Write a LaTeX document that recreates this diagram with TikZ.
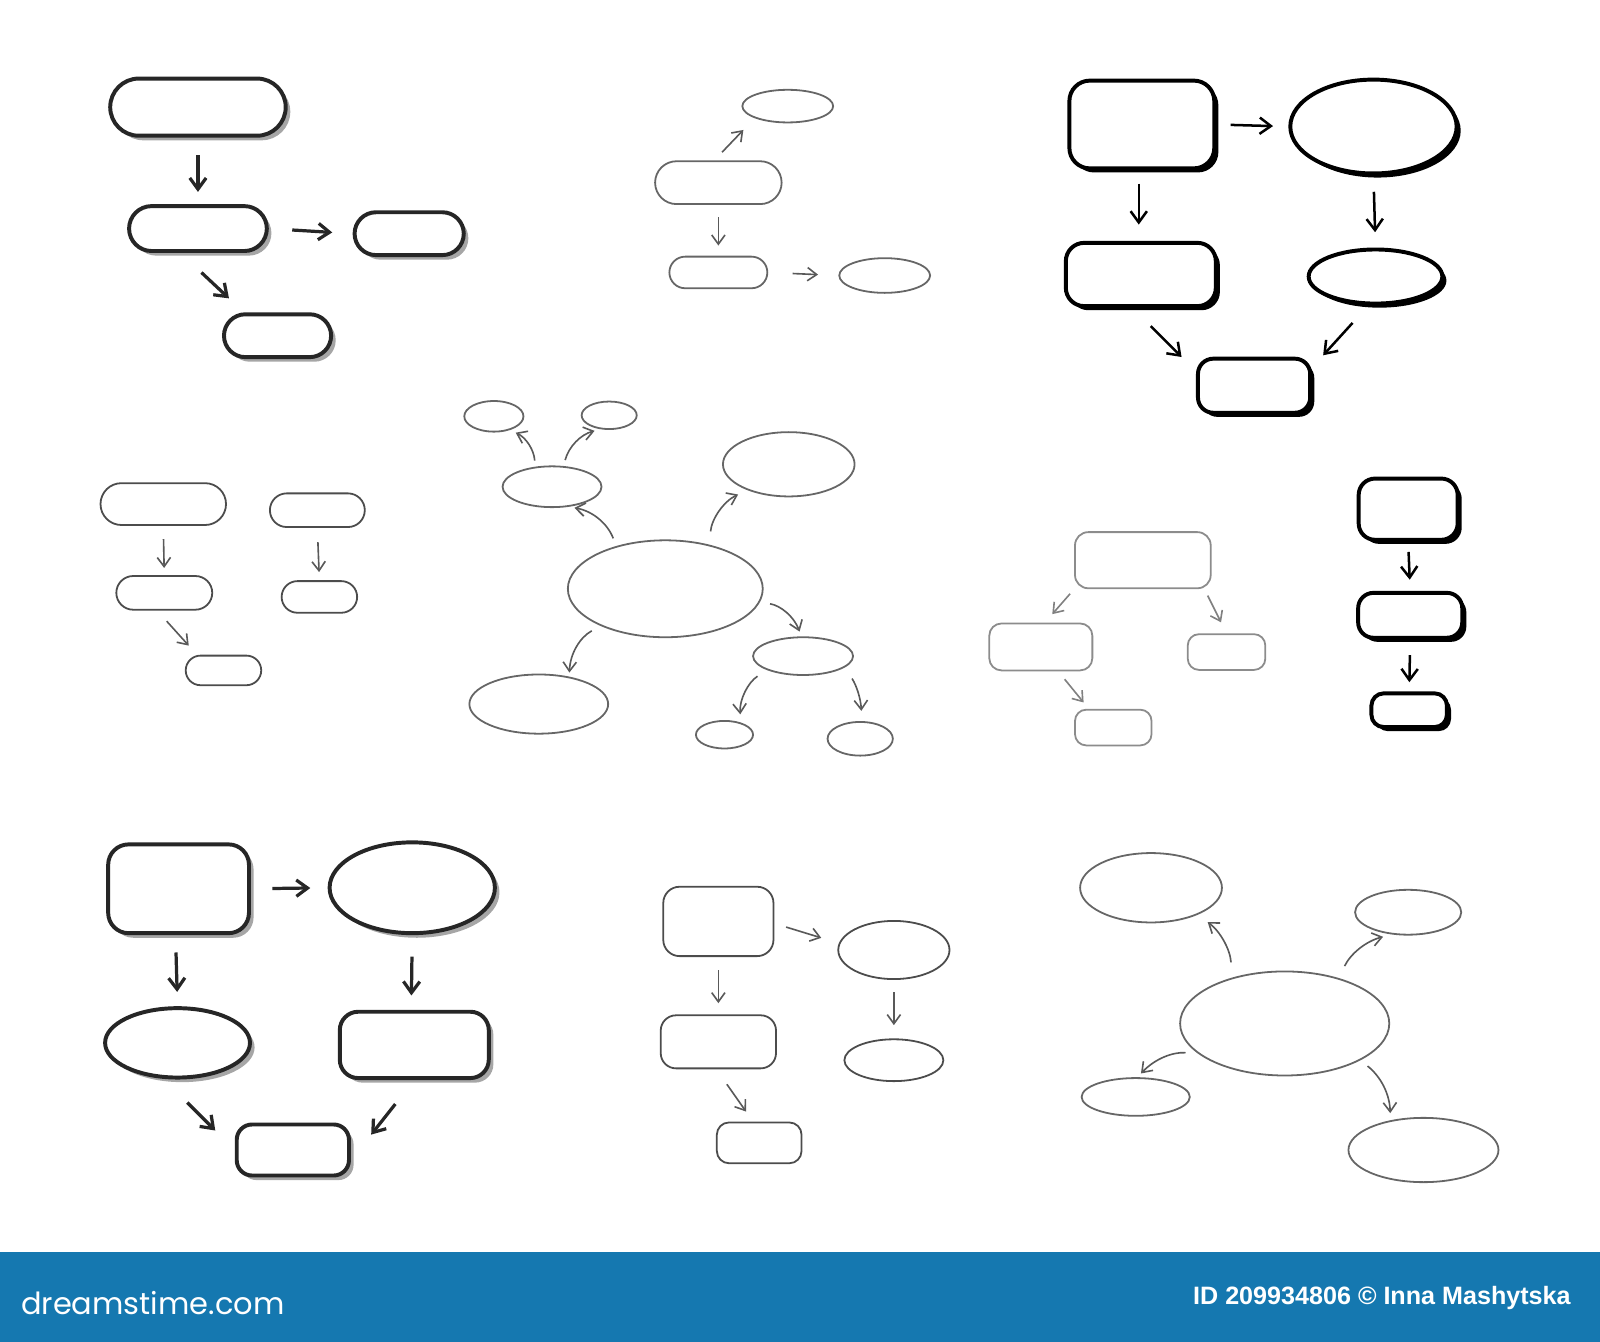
\documentclass[tikz,border=0pt]{standalone}
\usepackage{fontspec}
\usepackage{graphicx}
\usepackage{tikz}
\usetikzlibrary{shapes.misc, shapes.geometric, shadows, arrows.meta}

\newfontfamily\logofont{Poppins}
\newfontfamily\creditfont{Liberation Sans}
\definecolor{footblue}{RGB}{21,120,176}

\tikzset{
  wh/.style 2 args={minimum width=#1*0.1mm, minimum height=#2*0.1mm},
  pill/.style={rounded rectangle, inner sep=0pt},
  card/.style={rectangle, rounded corners=#1, inner sep=0pt},
  card/.default=1.5mm,
  blob/.style={ellipse, inner sep=0pt},
  soft/.style={draw=black!85, line width=1.1pt, fill=white,
    drop shadow={shadow xshift=0.45mm, shadow yshift=-0.45mm, fill=black!35, opacity=1}},
  hard/.style={draw=black, line width=1.1pt, fill=white,
    drop shadow={shadow xshift=0.4mm, shadow yshift=-0.4mm, fill=black, opacity=1}},
  faint/.style={draw=black!60, line width=0.5pt},
  gaps/.style 2 args={shorten <=#1, shorten >=#2},
  softlink/.style={-{Straight Barb[length=1.1mm, width=1.6mm]}, draw=black!85, line width=0.9pt},
  hardlink/.style={-{Straight Barb[length=1.1mm, width=1.6mm]}, draw=black, line width=0.7pt},
  faintlink/.style={-{Straight Barb[length=0.9mm, width=1.3mm]}, draw=black!65, line width=0.45pt}
}

\begin{document}
\begin{tikzpicture}[x=0.1mm, y=0.1mm]
  \useasboundingbox (0,0) rectangle (1568,-1315);

  \node[soft, pill, wh={172}{56}] (a1) at (194,-105) {};
  \node[soft, pill, wh={135}{44}] (a2) at (194,-224) {};
  \node[soft, pill, wh={107}{42}] (a3) at (401,-229) {};
  \node[soft, pill, wh={105}{42}] (a4) at (272,-329) {};
  \draw[softlink, gaps={1.7mm}{1.2mm}] (a1.south) -- (a2.north);
  \draw[softlink, gaps={2.3mm}{2mm}] (a2.east) -- (a3.west);
  \draw[softlink, gaps={2.8mm}{2mm}] ([xshift=-1.7mm]a2.south) -- ([xshift=-3.3mm]a4.north);

  \node[faint, blob, wh={89}{32}] (b1) at (772,-104) {};
  \node[faint, pill, wh={124}{42}] (b2) at (704,-179) {};
  \node[faint, pill, wh={96}{31}] (b3) at (704,-267) {};
  \node[faint, blob, wh={89}{34}] (b4) at (867,-270) {};
  \draw[faintlink, gaps={1.1mm}{1.6mm}] ([xshift=-0.4mm]b2.north) -- (b1.200);
  \draw[faintlink, gaps={1.2mm}{1mm}] (b2.south) -- (b3.north);
  \draw[faintlink, gaps={2.4mm}{2mm}] (b3.east) -- (b4.west);

  \node[hard, card=2mm, wh={142}{86}] (c1) at (1119,-122) {};
  \node[hard, blob, wh={163}{92}] (c2) at (1346,-124) {};
  \node[hard, card=1.8mm, wh={147}{62}] (c3) at (1118,-269) {};
  \node[hard, blob, wh={131}{53}] (c4) at (1348,-271) {};
  \node[hard, card, wh={110}{53}] (c5) at (1229,-378) {};
  \draw[hardlink, gaps={1.4mm}{1.5mm}] (c1.east) -- (c2.west);
  \draw[hardlink, gaps={1.3mm}{1.6mm}] ([xshift=-0.3mm]c1.south) -- ([xshift=-0.2mm]c3.north);
  \draw[hardlink, gaps={1.6mm}{1.5mm}] (c2.south) -- (c4.north);
  \draw[hardlink, gaps={2.5mm}{2mm}] ([xshift=-0.8mm]c3.south) -- ([yshift=1.4mm]c5.west);
  \draw[hardlink, gaps={2.3mm}{1.6mm}] ([xshift=-0.7mm]c4.south) -- ([yshift=1.8mm]c5.east);

  \node[faint, draw=black!70, pill, wh={123}{41}] (d1) at (160,-494) {};
  \node[faint, draw=black!70, pill, wh={93}{33}] (d2) at (311,-500) {};
  \node[faint, draw=black!70, pill, wh={94}{33}] (d3) at (161,-581) {};
  \node[faint, draw=black!70, pill, wh={74}{31}] (d4) at (313,-585) {};
  \node[faint, draw=black!70, pill, wh={74}{29}] (d5) at (219,-657) {};
  \draw[faintlink, gaps={1.3mm}{0.7mm}] (d1.south) -- (d3.north);
  \draw[faintlink, gaps={1.4mm}{0.8mm}] (d2.south) -- (d4.north);
  \draw[faintlink, gaps={1.4mm}{1.2mm}] ([xshift=-0.7mm]d3.south) -- ([xshift=-2.6mm]d5.north);

  \node[faint, blob, wh={191}{95}] (e0) at (652,-577) {};
  \node[faint, blob, wh={58}{30}] (e1) at (484,-408) {};
  \node[faint, blob, wh={54}{27}] (e2) at (597,-407) {};
  \node[faint, blob, wh={97}{40}] (e3) at (541,-477) {};
  \node[faint, blob, wh={129}{63}] (e4) at (773,-455) {};
  \node[faint, blob, wh={98}{37}] (e5) at (787,-643) {};
  \node[faint, blob, wh={136}{58}] (e6) at (528,-690) {};
  \node[faint, blob, wh={56}{27}] (e7) at (710,-720) {};
  \node[faint, blob, wh={64}{33}] (e8) at (843,-724) {};
  \draw[faintlink, gaps={0.8mm}{0.6mm}] (e0.139) to[bend right=30] (e3.309);
  \draw[faintlink, gaps={0.6mm}{0.6mm}] (e3.130) to[bend right=30] (e1.320);
  \draw[faintlink, gaps={0.6mm}{0.6mm}] (e3.61) to[bend left=30] (e2.238);
  \draw[faintlink, gaps={1.3mm}{1mm}] (e0.45) to[bend left=30] (e4.212);
  \draw[faintlink, gaps={1mm}{0.5mm}] (e0.352) to[bend left=30] (e5.95);
  \draw[faintlink, gaps={1mm}{0.4mm}] (e0.210) to[bend right=30] (e6.42);
  \draw[faintlink, gaps={1.1mm}{0.8mm}] (e5.201) to[bend right=30] (e7.37);
  \draw[faintlink, gaps={1.3mm}{1mm}] (e5.345) to[bend left=15] (e8.85);

  \node[faint, draw=black!45, card=1.3mm, wh={133}{55}] (f1) at (1120,-549) {};
  \node[faint, draw=black!45, card=1.2mm, wh={101}{46}] (f2) at (1020,-634) {};
  \node[faint, draw=black!45, card=1.1mm, wh={76}{35}] (f3) at (1202,-639) {};
  \node[faint, draw=black!45, card=1.1mm, wh={75}{35}] (f4) at (1091,-713) {};
  \draw[faintlink, draw=black!50, gaps={0.6mm}{1.1mm}] (f1.south west) -- ([xshift=0.4mm]f2.north);
  \draw[faintlink, draw=black!50, gaps={0.7mm}{1.2mm}] ([xshift=-0.7mm]f1.south east) -- (f3.north);
  \draw[faintlink, draw=black!50, gaps={1mm}{0.8mm}] ([xshift=1.7mm]f2.south) -- ([xshift=-2.4mm]f4.north);

  \node[hard, card=1.6mm, wh={97}{60}] (g1) at (1380,-499) {};
  \node[hard, card, wh={102}{44}] (g2) at (1382,-603) {};
  \node[hard, card=1.2mm, wh={74}{33}] (g3) at (1381,-696) {};
  \draw[hardlink, gaps={1mm}{1.1mm}] (g1.south) -- (g2.north);
  \draw[hardlink, gaps={1.5mm}{0.9mm}] (g2.south) -- (g3.north);

  \node[soft, card=2mm, wh={138}{87}] (h1) at (175,-871) {};
  \node[soft, blob, wh={162}{89}] (h2) at (404,-870) {};
  \node[soft, blob, wh={142}{68}] (h3) at (174,-1022) {};
  \node[soft, card=1.8mm, wh={146}{65}] (h4) at (406,-1024) {};
  \node[soft, card, wh={110}{50}] (h5) at (287,-1127) {};
  \draw[softlink, gaps={2.1mm}{1.7mm}] (h1.east) -- (h2.west);
  \draw[softlink, gaps={1.7mm}{1.4mm}] ([xshift=-0.3mm]h1.south) -- (h3.north);
  \draw[softlink, gaps={2.1mm}{1.4mm}] (h2.south) -- ([xshift=-0.3mm]h4.north);
  \draw[softlink, gaps={3.2mm}{2.7mm}] ([xshift=-1.3mm]h3.south) -- (h5.west);
  \draw[softlink, gaps={3mm}{3.2mm}] (h4.south) -- ([yshift=-1mm]h5.east);

  \node[faint, draw=black!70, card=1.6mm, wh={108}{68}] (i1) at (704,-903) {};
  \node[faint, draw=black!70, blob, wh={109}{57}] (i2) at (876,-931) {};
  \node[faint, draw=black!70, card, wh={113}{52}] (i3) at (704,-1021) {};
  \node[faint, draw=black!70, blob, wh={97}{41}] (i4) at (876,-1039) {};
  \node[faint, draw=black!70, card=1.2mm, wh={83}{40}] (i5) at (744,-1120) {};
  \draw[faintlink, gaps={1.2mm}{1.8mm}] ([yshift=-0.2mm]i1.east) -- (i2.173);
  \draw[faintlink, gaps={1.3mm}{1.1mm}] (i1.south) -- (i3.north);
  \draw[faintlink, gaps={1.2mm}{1.3mm}] (i2.south) -- (i4.north);
  \draw[faintlink, gaps={1.8mm}{1.2mm}] ([xshift=-0.2mm]i3.south) -- ([xshift=-0.6mm]i5.north);

  \node[faint, blob, wh={205}{102}] (j0) at (1259,-1003) {};
  \node[faint, blob, wh={139}{68}] (j1) at (1128,-870) {};
  \node[faint, blob, wh={104}{44}] (j2) at (1380,-894) {};
  \node[faint, blob, wh={106}{37}] (j3) at (1113,-1075) {};
  \node[faint, blob, wh={147}{63}] (j4) at (1395,-1127) {};
  \draw[faintlink, gaps={1.5mm}{1.2mm}] (j0.139) to[bend right=25] (j1.330);
  \draw[faintlink, gaps={1.3mm}{0.9mm}] (j0.40) to[bend left=25] (j2.234);
  \draw[faintlink, gaps={1.2mm}{0.5mm}] (j0.199) to[bend right=25] (j3.85);
  \draw[faintlink, gaps={0.9mm}{0.7mm}] (j0.334) to[bend left=25] (j4.138);

  \fill[footblue] (0,-1227) rectangle (1568,-1315);
  \node[anchor=west, text=white, inner sep=0pt] (logo) at (20,-1277)
    {\resizebox{25.8mm}{!}{\logofont dreamstime.com}};
  \node[anchor=east, text=white, inner sep=0pt] (credit) at (1540,-1272)
    {\resizebox{37mm}{!}{\creditfont\bfseries ID 209934806 © Inna Mashytska}};
\end{tikzpicture}
\end{document}
